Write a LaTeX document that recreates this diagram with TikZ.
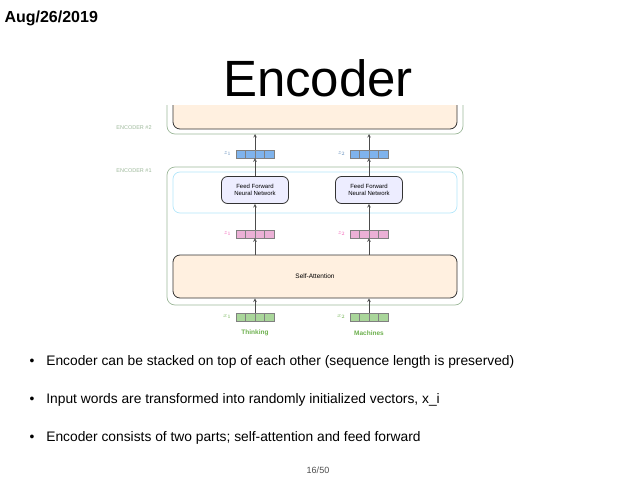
\documentclass[tikz,border=0pt]{standalone}
\usepackage{fontspec}
\usetikzlibrary{calc}
\setmainfont{Liberation Sans}
\definecolor{vblue}{HTML}{7FB3EC}
\definecolor{vpink}{HTML}{EBB0D6}
\definecolor{vgreen}{HTML}{A9D69A}
\definecolor{egreen}{HTML}{9DB89A}
\definecolor{tgreen}{HTML}{6DB04E}
\begin{document}
\begin{tikzpicture}[x=1pt,y=-1pt,
 outer/.style={draw=egreen,rounded corners=8pt,line width=0.7pt},
 inner/.style={draw=black!80,fill=orange!12,rounded corners=7pt,line width=0.8pt},
 ffbox/.style={draw=black!80,fill=blue!7,rounded corners=6pt,line width=0.8pt,minimum width=67pt,minimum height=27pt,align=center,font=\fontsize{6}{7.5}\selectfont},
 arr/.style={->,>=stealth,draw=black!70,line width=0.6pt},
 lab/.style={font=\fontsize{5.5}{6}\selectfont,text=egreen},
 vl/.style={font=\fontsize{6}{6}\selectfont,left=1pt},
 bul/.style={anchor=west,font=\fontsize{13.8}{15}\selectfont}]
\useasboundingbox (0,0) rectangle (638,493);
\node[font=\bfseries\fontsize{16}{18}\selectfont,anchor=west] (date) at (1,18) {Aug/26/2019};
\node[font=\fontsize{51}{56}\selectfont] (title) at (318,78) {Encoder};
% encoder 2
\begin{scope}
\clip (100,105) rectangle (520,140);
\draw[outer] (167,90) rectangle (463,134);
\draw[inner] (173,85) rectangle (457,129);
\end{scope}
\node[lab] (e2) at (134,128) {ENCODER \#2};
% encoder 1
\draw[outer] (167,167) rectangle (463,305);
\node[lab] (e1) at (134,171) {ENCODER \#1};
\draw[draw=cyan!30,rounded corners=7pt,line width=0.7pt] (173,172) rectangle (457,213);
\node[ffbox] (f1) at (255,190) {Feed Forward\\Neural Network};
\node[ffbox] (f2) at (369,190) {Feed Forward\\Neural Network};
\node[inner,minimum width=284pt,minimum height=43pt,font=\fontsize{6.5}{7}\selectfont] (sa) at (315,276.5) {Self-Attention};
% vectors
\foreach \n/\cx/\cy/\col in {z1/255/154/vblue, z2/369/154/vblue, x1/255/234/vpink, x2/369/234/vpink, i1/255/317/vgreen, i2/369/317/vgreen}{
 \node[draw=black!50,fill=\col,minimum width=38pt,minimum height=8pt,inner sep=0pt,line width=0.4pt] (\n) at (\cx,\cy) {};
 \foreach \k in {1,2,3}{\draw[black!50,line width=0.4pt] ($(\n.south west)+(\k*9.5,0)$) -- ($(\n.north west)+(\k*9.5,0)$);}
}
\node[vl,text=vblue!80!black] at (z1.west) {$z_1$};
\node[vl,text=vblue!80!black] at (z2.west) {$z_2$};
\node[vl,text=magenta!60] at (x1.west) {$z_1$};
\node[vl,text=magenta!60] at (x2.west) {$z_2$};
\node[vl,text=tgreen] at (i1.west) {$x_1$};
\node[vl,text=tgreen] at (i2.west) {$x_2$};
\node[font=\bfseries\fontsize{6.5}{6.5}\selectfont,text=tgreen] (t1) at (255,333) {Thinking};
\node[font=\bfseries\fontsize{6.5}{6.5}\selectfont,text=tgreen] (t2) at (369,333) {Machines};
\coordinate (top1) at (255,134); \coordinate (top2) at (369,134);
\foreach \p in {1,2}{
 \draw[arr] (i\p) -- (sa.south -| i\p);
 \draw[arr] (sa.north -| x\p) -- (x\p);
 \draw[arr] (x\p) -- (f\p);
 \draw[arr] (f\p) -- (z\p);
 \draw[arr] (z\p) -- (top\p);
}
\node[bul] (b1) at (26,362) {\textbullet\hspace{12pt}Encoder can be stacked on top of each other (sequence length is preserved)};
\node[bul] (b2) at (26,400) {\textbullet\hspace{12pt}Input words are transformed into randomly initialized vectors, x\_i};
\node[bul] (b3) at (26,438) {\textbullet\hspace{12pt}Encoder consists of two parts; self-attention and feed forward};
\node[font=\fontsize{9}{10}\selectfont,text=black!70] (pg) at (318,470) {16/50};
\end{tikzpicture}
\end{document}
